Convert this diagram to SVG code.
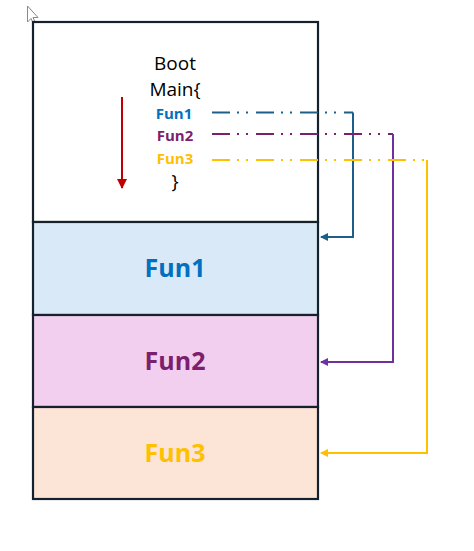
<svg xmlns="http://www.w3.org/2000/svg" width="474" height="551" viewBox="0 0 474 551">
<defs>
<style>
.box{stroke:#15222e;stroke-width:2.2}
.t{font-family:"Open Sans","Noto Sans",sans-serif;text-anchor:middle}
.b{font-weight:bold}
.dash{fill:none;stroke-width:2;stroke-dasharray:18 7 2 7 2 8}
.solid{fill:none;stroke-width:2}
</style>
<marker id="a1" markerWidth="8" markerHeight="8" refX="7" refY="4" orient="auto" markerUnits="userSpaceOnUse"><path d="M0,0 L8,4 L0,8 Z" fill="#1d5f8a"/></marker>
<marker id="a2" markerWidth="8" markerHeight="8" refX="7" refY="4" orient="auto" markerUnits="userSpaceOnUse"><path d="M0,0 L8,4 L0,8 Z" fill="#7030a0"/></marker>
<marker id="a3" markerWidth="8" markerHeight="8" refX="7" refY="4" orient="auto" markerUnits="userSpaceOnUse"><path d="M0,0 L8,4 L0,8 Z" fill="#ffc000"/></marker>
<marker id="ar" markerWidth="10" markerHeight="10" refX="5" refY="9" orient="0" markerUnits="userSpaceOnUse"><path d="M0,0 L10,0 L5,10 Z" fill="#c00000"/></marker>
</defs>
<rect width="474" height="551" fill="#ffffff"/>
<path d="M27.5,6 L27.5,22 L31,18.5 L34,25 L36,24 L33,17.5 L38,17.5 Z" fill="#ffffff" stroke="#888888" stroke-width="1"/>
<g id="boot">
<rect class="box" x="33" y="22" width="285" height="200" fill="#ffffff"/>
<text class="t" x="175" y="70" font-size="19" fill="#000">Boot</text>
<text class="t" x="175" y="96" font-size="19" fill="#000">Main{</text>
<text class="t b" x="174" y="119" font-size="15" fill="#0070c0">Fun1</text>
<text class="t b" x="175" y="141" font-size="15" fill="#7b1f6e">Fun2</text>
<text class="t b" x="175" y="164" font-size="15" fill="#ffc000">Fun3</text>
<text class="t" x="175" y="188" font-size="19" fill="#000">}</text>
<line x1="122" y1="97" x2="122" y2="188" stroke="#c00000" stroke-width="2" marker-end="url(#ar)"/>
</g>
<g id="fun1">
<rect class="box" x="33" y="222" width="285" height="93" fill="#dae9f7"/>
<text class="t b" x="175" y="277" font-size="25" fill="#0070c0">Fun1</text>
</g>
<g id="fun2">
<rect class="box" x="33" y="315" width="285" height="92" fill="#f2cfee"/>
<text class="t b" x="175" y="370" font-size="25" fill="#7b1f6e">Fun2</text>
</g>
<g id="fun3">
<rect class="box" x="33" y="407" width="285" height="92" fill="#fce4d6"/>
<text class="t b" x="175" y="462" font-size="25" fill="#ffc000">Fun3</text>
</g>
<g id="connectors">
<path class="dash" d="M212,112.5 L353,112.5" stroke="#1d5f8a"/>
<path class="solid" d="M353,112.5 L353,237 L321,237" stroke="#1d5f8a" marker-end="url(#a1)"/>
<path class="dash" d="M212,134 L393,134" stroke="#7b1f6e"/>
<path class="solid" d="M393,134 L393,362 L321,362" stroke="#7030a0" marker-end="url(#a2)"/>
<path class="dash" d="M212,160 L427,160" stroke="#ffc000"/>
<path class="solid" d="M427,160 L427,453 L321,453" stroke="#ffc000" marker-end="url(#a3)"/>
</g>
</svg>
